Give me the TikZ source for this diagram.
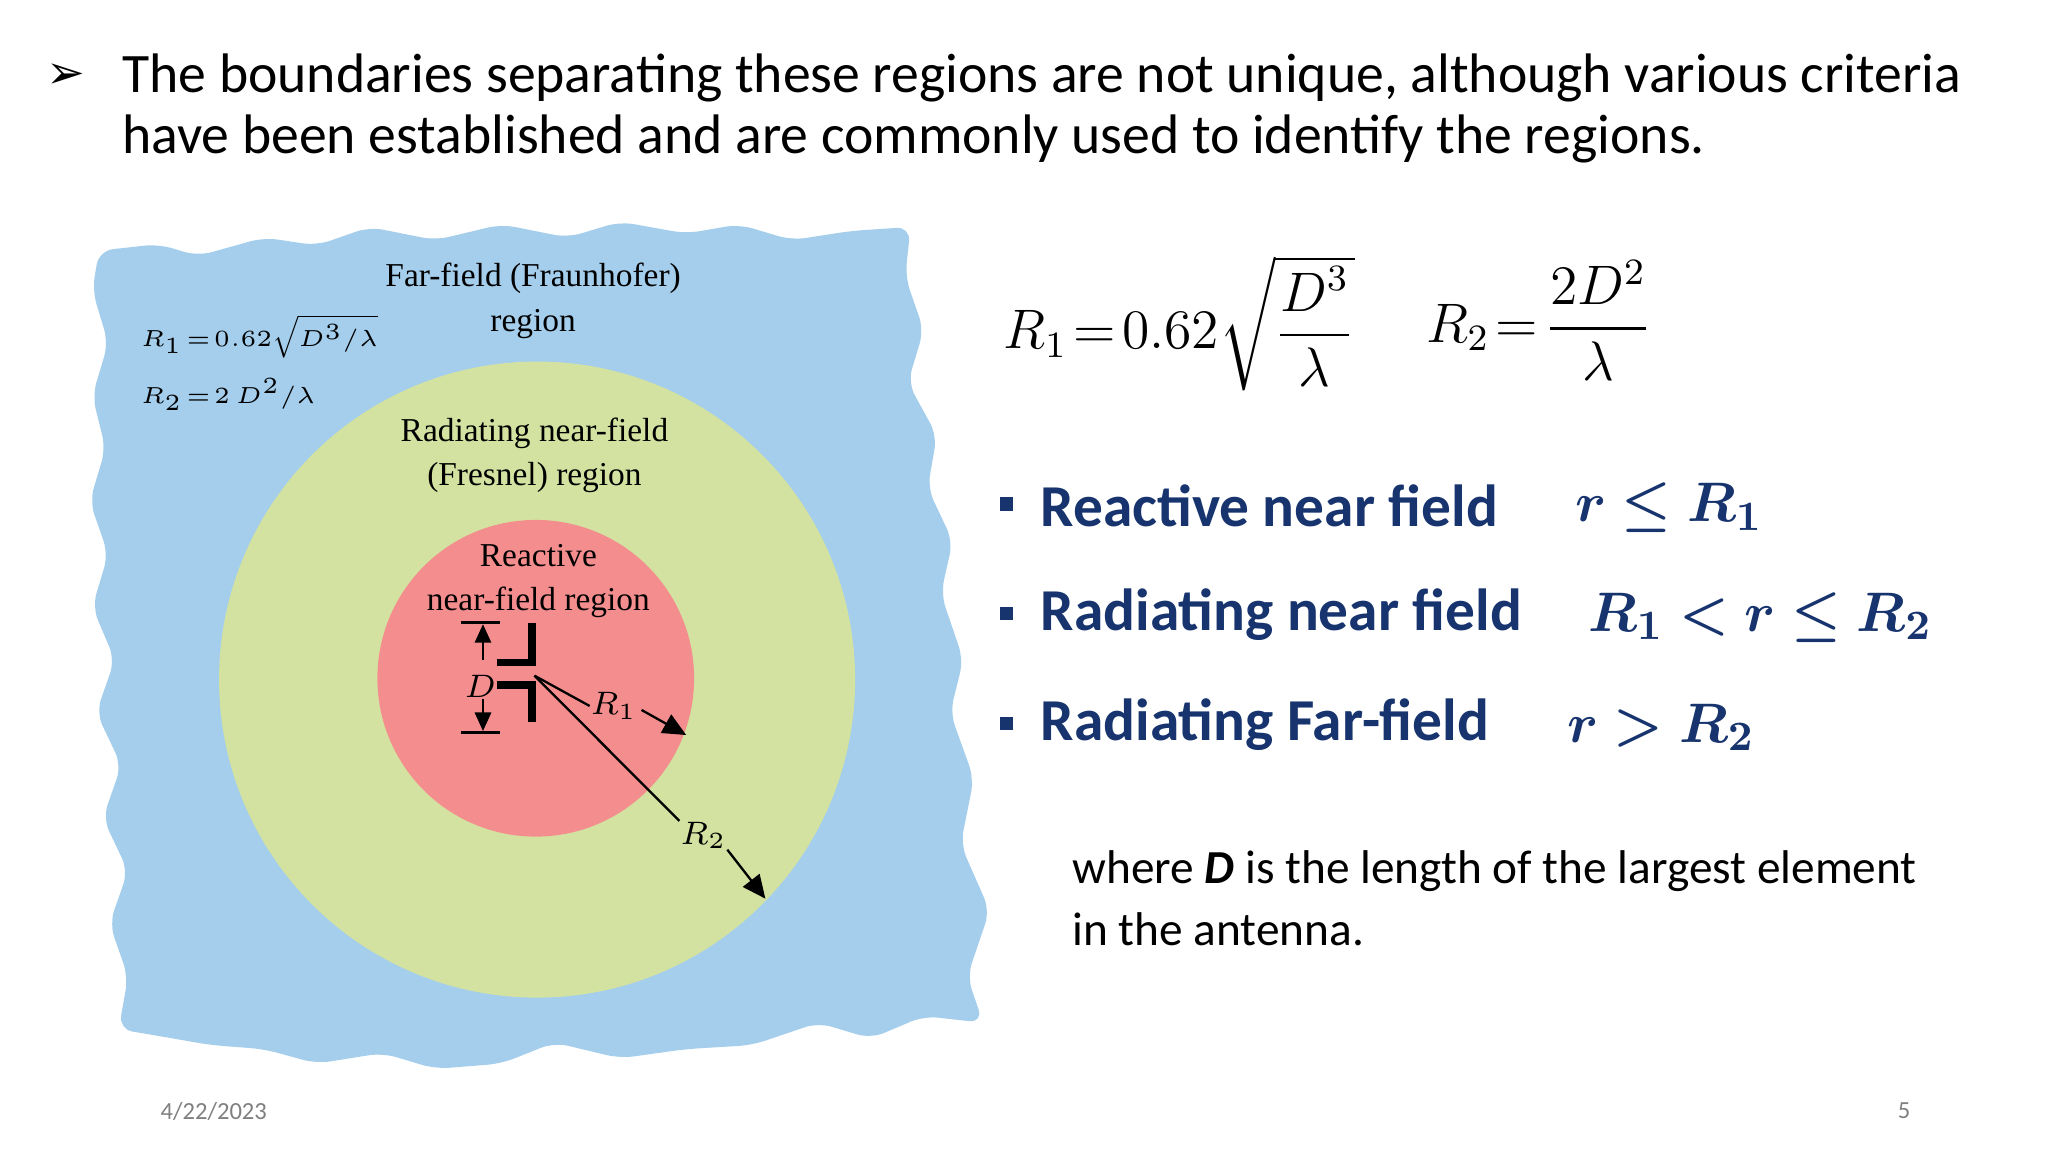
\documentclass[tikz,border=0pt]{standalone}
\usepackage{amsmath,bm}
\usepackage{fontspec}
\setmainfont{Carlito}
\newfontfamily\tnr{Liberation Serif}
\newfontfamily\dv{DejaVu Sans}
\usetikzlibrary{arrows.meta}
\definecolor{farblue}{HTML}{A4CEEC}
\definecolor{neargreen}{HTML}{D3E2A0}
\definecolor{reactred}{HTML}{F48E8E}
\definecolor{dblue}{HTML}{17346E}
\tikzset{
  lab/.style={font=\tnr\fontsize{7.2}{8.5}\selectfont, inner sep=0pt, align=center},
  bul/.style={font=\fontsize{12.8}{14}\selectfont\bfseries, text=dblue, anchor=west, inner sep=0pt},
  bmath/.style={font=\fontsize{13}{14}\selectfont, text=dblue, anchor=west, inner sep=0pt},
  sq/.style={fill=dblue, minimum size=0.1cm, inner sep=0pt},
  ant/.style={line width=1.6pt},
  arr/.style={-{Triangle[length=5pt,width=4.5pt]}, line width=0.5pt}
}
\begin{document}
\begin{tikzpicture}[x=0.01cm,y=-0.01cm]
\useasboundingbox (0,0) rectangle (1552,873);
\fill[white] (0,0) rectangle (1552,873);
% header
\node[font=\dv\fontsize{10}{10}\selectfont, inner sep=0pt] (arrowb) at (50,58) {➢};
\node[anchor=north west, inner sep=0pt, align=left, font=\fontsize{12}{13.2}\selectfont] (head) at (92,40)
 {The boundaries separating these regions are not unique, although various criteria\\have been established and are commonly used to identify the regions.};
% blob
\fill[farblue, rounded corners=3] (75,190)--(120,185)--(150,194)--(200,180)--(240,186)--(280,172)--(330,182)--(380,170)--(430,180)--(470,168)--(520,177)--(560,170)--(600,182)--(645,175)--(690,172)--(686,210)--(700,250)--(688,290)--(710,330)--(703,370)--(722,410)--(713,450)--(730,500)--(720,540)--(738,590)--(728,640)--(750,690)--(733,740)--(745,775)--(700,770)--(660,787)--(620,775)--(570,792)--(520,795)--(470,802)--(420,790)--(380,806)--(330,810)--(290,798)--(240,806)--(200,795)--(160,792)--(120,785)--(90,780)--(97,740)--(83,700)--(97,660)--(78,620)--(92,580)--(73,540)--(87,500)--(70,460)--(82,420)--(68,380)--(80,340)--(70,300)--(82,260)--(70,220)--cycle;
\fill[neargreen] (407,515) circle (241);
\fill[reactred] (406,514) circle (120);
% labels
\node[lab] (far) at (404,228) {Far-field (Fraunhofer)\\[1pt]region};
\node[lab] (rad) at (405,345) {Radiating near-field\\[1pt](Fresnel) region};
\node[lab] (rea) at (408,440) {Reactive\\[1pt]near-field region};
\node[anchor=west, inner sep=0pt, font=\fontsize{5}{6}\selectfont] (f1) at (106,255) {$R_1\!=\!0.62\sqrt{D^3/\lambda}$};
\node[anchor=west, inner sep=0pt, font=\fontsize{5}{6}\selectfont] (f2) at (106,299) {$R_2\!=\!2\,D^2/\lambda$};
% antenna
\draw[ant] (403,472)--(403,502)--(377,502);
\draw[ant] (377,519)--(403,519)--(403,547);
\draw[line width=0.6pt] (349,472)--(379,472);
\draw[line width=0.6pt] (349,555)--(379,555);
\node[lab, inner sep=2pt, font=\tnr\itshape\fontsize{7}{8}\selectfont] (D) at (364,520) {$D$};
\draw[arr, -{Triangle[length=4pt,width=3.5pt]}] (366,500) -- (366,473);
\draw[arr, -{Triangle[length=4pt,width=3.5pt]}] (366,530) -- (366,554);
\coordinate (feed) at (405,512);
\node[lab, font=\tnr\fontsize{7}{8}\selectfont] (r1) at (465,535) {$R_1$};
\node[lab, font=\tnr\fontsize{7}{8}\selectfont] (r2) at (533,633) {$R_2$};
\coordinate (e1) at (520,557);
\coordinate (e2) at (580,681);
\draw[line width=0.5pt] (feed) -- (r1.west);
\draw[arr] (r1.east) ++(3,3) -- (e1);
\draw[line width=0.5pt] (feed) -- (r2.north west);
\draw[arr] (r2.south east) -- (e2);
% right formulas
\node[anchor=west, inner sep=0pt, font=\fontsize{11.5}{13}\selectfont] (F1) at (760,245) {$R_1\!=\!0.62\sqrt{\dfrac{D^3}{\lambda}}$};
\node[anchor=west, inner sep=0pt, font=\fontsize{11.5}{13}\selectfont] (F2) at (1080,243) {$R_2\!=\!\dfrac{2D^2}{\lambda}$};
% bullets
\node[sq] (s1) at (763,382) {};
\node[sq] (s2) at (763,465) {};
\node[sq] (s3) at (763,548) {};
\node[bul] (b1) at (788,383) {Reactive near field};
\node[bul] (b2) at (788,466) {Radiating near field};
\node[bul] (b3) at (788,549) {Radiating Far-field};
\node[bmath] (m1) at (1193,385) {$\bm{r \le R_1}$};
\node[bmath] (m2) at (1203,468) {$\bm{R_1 < r \le R_2}$};
\node[bmath] (m3) at (1187,551) {$\bm{r > R_2}$};
\node[anchor=north west, inner sep=0pt, align=left, font=\fontsize{10.2}{13.3}\selectfont] (where) at (812,644)
 {where \textbf{\textit{D}} is the length of the largest element\\in the antenna.};
% footer
\node[text=gray, font=\fontsize{5.3}{6}\selectfont, inner sep=0pt] (date) at (162,842) {4/22/2023};
\node[text=gray, font=\fontsize{5.3}{6}\selectfont, inner sep=0pt] (pg) at (1443,842) {5};
\end{tikzpicture}
\end{document}
